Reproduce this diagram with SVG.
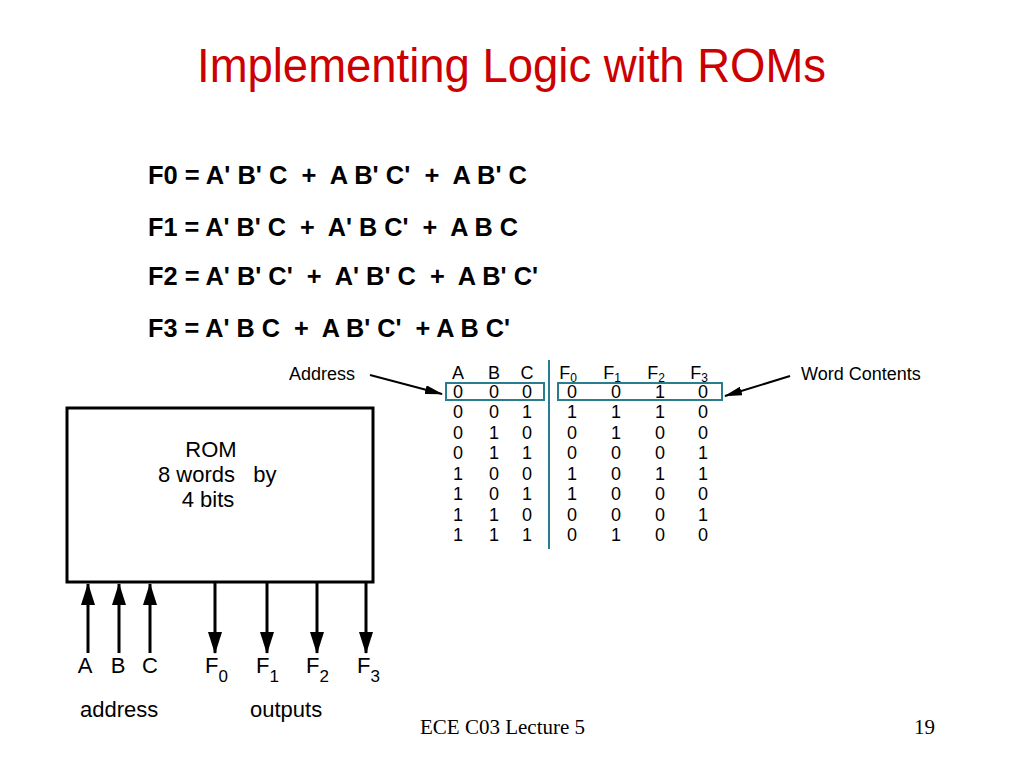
<svg xmlns="http://www.w3.org/2000/svg" width="1024" height="768" viewBox="0 0 1024 768">
<defs>
<marker id="ah" markerWidth="18" markerHeight="9" refX="17" refY="4.5" orient="auto" markerUnits="userSpaceOnUse"><path d="M0,0 L18,4.5 L0,9 z" fill="#000"/></marker>
<marker id="big" markerWidth="22" markerHeight="14" refX="21" refY="7" orient="auto" markerUnits="userSpaceOnUse"><path d="M0,0 L22,7 L0,14 z" fill="#000"/></marker>
<style>
.t{font-family:"Liberation Sans",Arial,sans-serif;fill:#000}
.eq{font-family:"Liberation Sans",Arial,sans-serif;font-weight:bold;font-size:25px;white-space:pre}
.tb{font-family:"Liberation Sans",Arial,sans-serif;font-size:18px;text-anchor:middle}
.lb{font-family:"Liberation Sans",Arial,sans-serif;font-size:22px}
.teal{stroke:#2a7d8e;fill:none;stroke-width:2}
.ln{stroke:#000;stroke-width:3;fill:none}
</style>
</defs>
<rect width="1024" height="768" fill="#fff"/>
<text x="197" y="82" textLength="629" lengthAdjust="spacingAndGlyphs" font-family="Liberation Sans, Arial, sans-serif" font-size="48" fill="#cc0000">Implementing Logic with ROMs</text>
<g id="equations">
<text class="eq" x="148" y="184" textLength="379" lengthAdjust="spacingAndGlyphs" xml:space="preserve">F0 = A' B' C  +  A B' C'  +  A B' C</text>
<text class="eq" x="148" y="236" textLength="370" lengthAdjust="spacingAndGlyphs" xml:space="preserve">F1 = A' B' C  +  A' B C'  +  A B C</text>
<text class="eq" x="148" y="285" textLength="390" lengthAdjust="spacingAndGlyphs" xml:space="preserve">F2 = A' B' C'  +  A' B' C  +  A B' C'</text>
<text class="eq" x="148" y="337" textLength="362" lengthAdjust="spacingAndGlyphs" xml:space="preserve">F3 = A' B C  +  A B' C'  + A B C'</text>
</g>
<g id="rom">
<rect x="67" y="408" width="306" height="174" fill="#fff" stroke="#000" stroke-width="3"/>
<text class="lb" x="211" y="457" text-anchor="middle">ROM</text>
<text class="lb" x="158" y="482" xml:space="preserve">8 words   by</text>
<text class="lb" x="208" y="507" text-anchor="middle">4 bits</text>
</g>
<g id="table">
<line x1="549" y1="360" x2="549" y2="549" class="teal"/>
<rect x="446" y="383" width="98" height="17" class="teal"/>
<rect x="558" y="383" width="164" height="17" class="teal"/>
<g class="tb">
<text x="458" y="379">A</text><text x="494" y="379">B</text><text x="527" y="379">C</text>
<text x="568" y="379">F<tspan font-size="12" dy="3">0</tspan></text>
<text x="612" y="379">F<tspan font-size="12" dy="3">1</tspan></text>
<text x="656" y="379">F<tspan font-size="12" dy="3">2</tspan></text>
<text x="699" y="379">F<tspan font-size="12" dy="3">3</tspan></text>
</g>
<g class="tb">
<text y="398"><tspan x="458">0</tspan><tspan x="494">0</tspan><tspan x="527">0</tspan><tspan x="572">0</tspan><tspan x="616">0</tspan><tspan x="660">1</tspan><tspan x="703">0</tspan></text>
<text y="418"><tspan x="458">0</tspan><tspan x="494">0</tspan><tspan x="527">1</tspan><tspan x="572">1</tspan><tspan x="616">1</tspan><tspan x="660">1</tspan><tspan x="703">0</tspan></text>
<text y="439"><tspan x="458">0</tspan><tspan x="494">1</tspan><tspan x="527">0</tspan><tspan x="572">0</tspan><tspan x="616">1</tspan><tspan x="660">0</tspan><tspan x="703">0</tspan></text>
<text y="459"><tspan x="458">0</tspan><tspan x="494">1</tspan><tspan x="527">1</tspan><tspan x="572">0</tspan><tspan x="616">0</tspan><tspan x="660">0</tspan><tspan x="703">1</tspan></text>
<text y="480"><tspan x="458">1</tspan><tspan x="494">0</tspan><tspan x="527">0</tspan><tspan x="572">1</tspan><tspan x="616">0</tspan><tspan x="660">1</tspan><tspan x="703">1</tspan></text>
<text y="500"><tspan x="458">1</tspan><tspan x="494">0</tspan><tspan x="527">1</tspan><tspan x="572">1</tspan><tspan x="616">0</tspan><tspan x="660">0</tspan><tspan x="703">0</tspan></text>
<text y="521"><tspan x="458">1</tspan><tspan x="494">1</tspan><tspan x="527">0</tspan><tspan x="572">0</tspan><tspan x="616">0</tspan><tspan x="660">0</tspan><tspan x="703">1</tspan></text>
<text y="541"><tspan x="458">1</tspan><tspan x="494">1</tspan><tspan x="527">1</tspan><tspan x="572">0</tspan><tspan x="616">1</tspan><tspan x="660">0</tspan><tspan x="703">0</tspan></text>
</g>
</g>
<g id="labels">
<text class="t" x="289" y="380" font-size="18">Address</text>
<text class="t" x="801" y="380" font-size="18">Word Contents</text>
<text class="lb" x="85" y="673" text-anchor="middle">A</text>
<text class="lb" x="118" y="673" text-anchor="middle">B</text>
<text class="lb" x="150" y="673" text-anchor="middle">C</text>
<text class="lb" x="205" y="673">F<tspan font-size="17" dy="9">0</tspan></text>
<text class="lb" x="256" y="673">F<tspan font-size="17" dy="9">1</tspan></text>
<text class="lb" x="306" y="673">F<tspan font-size="17" dy="9">2</tspan></text>
<text class="lb" x="357" y="673">F<tspan font-size="17" dy="9">3</tspan></text>
<text class="lb" x="80" y="717">address</text>
<text class="lb" x="250" y="717">outputs</text>
</g>
<g id="connectors">
<line x1="370" y1="375" x2="442" y2="394" stroke="#000" stroke-width="2" marker-end="url(#ah)"/>
<line x1="790" y1="376" x2="725" y2="396" stroke="#000" stroke-width="2" marker-end="url(#ah)"/>
<line x1="88" y1="653" x2="88" y2="584" class="ln" marker-end="url(#big)"/>
<line x1="119" y1="653" x2="119" y2="584" class="ln" marker-end="url(#big)"/>
<line x1="150" y1="653" x2="150" y2="584" class="ln" marker-end="url(#big)"/>
<line x1="215" y1="582" x2="215" y2="653" class="ln" marker-end="url(#big)"/>
<line x1="267" y1="582" x2="267" y2="653" class="ln" marker-end="url(#big)"/>
<line x1="317" y1="582" x2="317" y2="653" class="ln" marker-end="url(#big)"/>
<line x1="366" y1="582" x2="366" y2="653" class="ln" marker-end="url(#big)"/>
</g>
<g id="footer">
<text x="420" y="734" font-family="Liberation Serif, Times New Roman, serif" font-size="21">ECE C03 Lecture 5</text>
<text x="935" y="734" text-anchor="end" font-family="Liberation Serif, Times New Roman, serif" font-size="21">19</text>
</g>
</svg>
